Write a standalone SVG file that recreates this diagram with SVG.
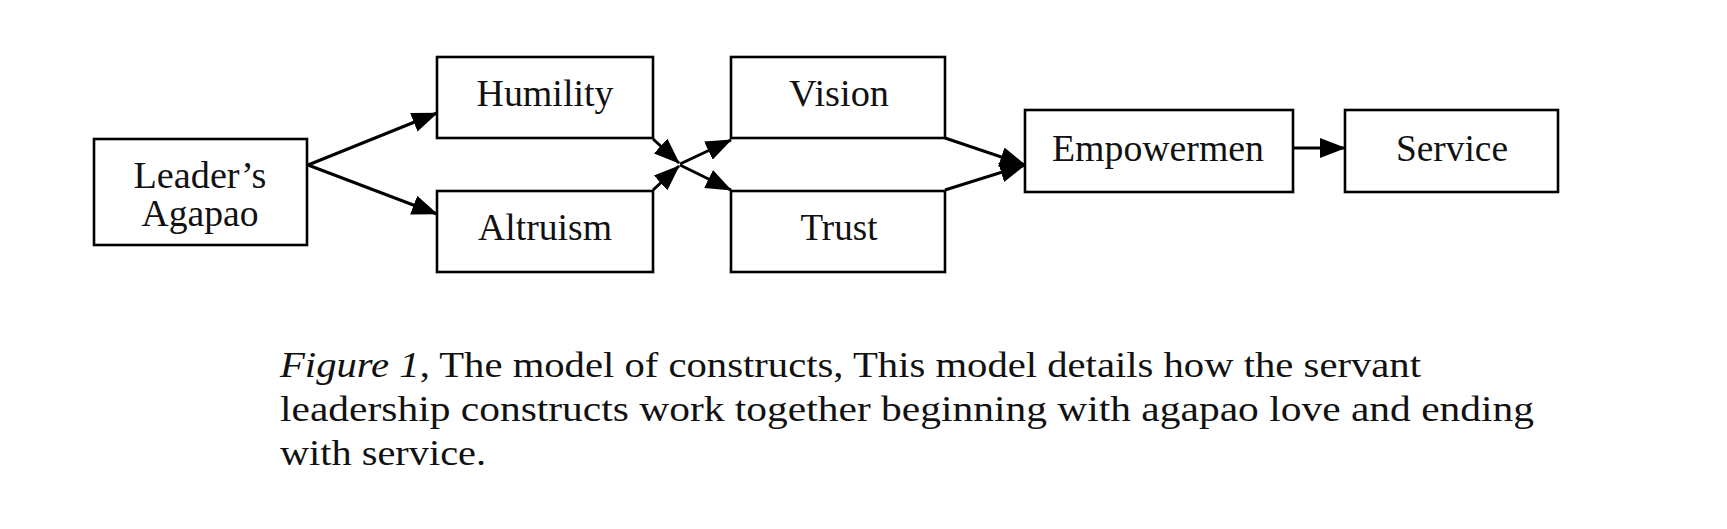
<svg xmlns="http://www.w3.org/2000/svg" width="1727" height="529" viewBox="0 0 1727 529">
<defs>
<marker id="ah" viewBox="0 0 26 20" refX="25" refY="10" markerWidth="26" markerHeight="20" markerUnits="userSpaceOnUse" orient="auto">
<path d="M0,0 L26,10 L0,20 z" fill="#000"/>
</marker>
<style>
.box{fill:#fff;stroke:#000;stroke-width:2.6}
.lbl{font-family:'Liberation Serif','Times New Roman',Times,serif;font-size:37px;fill:#111;text-anchor:middle}
.cap{font-family:'Liberation Serif','Times New Roman',Times,serif;font-size:36px;fill:#111}
.con{fill:none;stroke:#000;stroke-width:3;marker-end:url(#ah)}
</style>
</defs>
<rect width="1727" height="529" fill="#fff"/>
<g id="connectors">
<path class="con" d="M308,165 L437,113"/>
<path class="con" d="M308,165 L437,214"/>
<path class="con" d="M653,139 L679,163"/>
<path class="con" d="M653,190 L679,166"/>
<path class="con" d="M680,164 L731,140"/>
<path class="con" d="M680,165 L731,190"/>
<path class="con" d="M945,138 L1025,165"/>
<path class="con" d="M945,190 L1025,165"/>
<path class="con" d="M1294,148 L1345,148"/>
</g>
<g id="leader">
<rect class="box" x="94" y="139" width="213" height="106"/>
<text class="lbl" font-family="Liberation Serif" x="200" y="188" textLength="133" lengthAdjust="spacingAndGlyphs">Leader’s</text>
<text class="lbl" font-family="Liberation Serif" x="200" y="226" textLength="117" lengthAdjust="spacingAndGlyphs">Agapao</text>
</g>
<g id="humility">
<rect class="box" x="437" y="57" width="216" height="81"/>
<text class="lbl" font-family="Liberation Serif" x="545" y="106" textLength="137" lengthAdjust="spacingAndGlyphs">Humility</text>
</g>
<g id="altruism">
<rect class="box" x="437" y="191" width="216" height="81"/>
<text class="lbl" font-family="Liberation Serif" x="545" y="240" textLength="134" lengthAdjust="spacingAndGlyphs">Altruism</text>
</g>
<g id="vision">
<rect class="box" x="731" y="57" width="214" height="81"/>
<text class="lbl" font-family="Liberation Serif" x="839" y="106" textLength="100" lengthAdjust="spacingAndGlyphs">Vision</text>
</g>
<g id="trust">
<rect class="box" x="731" y="191" width="214" height="81"/>
<text class="lbl" font-family="Liberation Serif" x="839" y="240" textLength="77" lengthAdjust="spacingAndGlyphs">Trust</text>
</g>
<g id="empowermen">
<rect class="box" x="1025" y="110" width="268" height="82"/>
<text class="lbl" font-family="Liberation Serif" x="1158" y="161" textLength="212" lengthAdjust="spacingAndGlyphs">Empowermen</text>
</g>
<g id="service">
<rect class="box" x="1345" y="110" width="213" height="82"/>
<text class="lbl" font-family="Liberation Serif" x="1452" y="161" textLength="112" lengthAdjust="spacingAndGlyphs">Service</text>
</g>
<g id="caption">
<text class="cap" font-family="Liberation Serif" x="280" y="377" textLength="1141" lengthAdjust="spacingAndGlyphs"><tspan font-style="italic">Figure 1</tspan>, The model of constructs, This model details how the servant</text>
<text class="cap" font-family="Liberation Serif" x="280" y="421" textLength="1254" lengthAdjust="spacingAndGlyphs">leadership constructs work together beginning with agapao love and ending</text>
<text class="cap" font-family="Liberation Serif" x="280" y="465" textLength="206" lengthAdjust="spacingAndGlyphs">with service.</text>
</g>
</svg>
